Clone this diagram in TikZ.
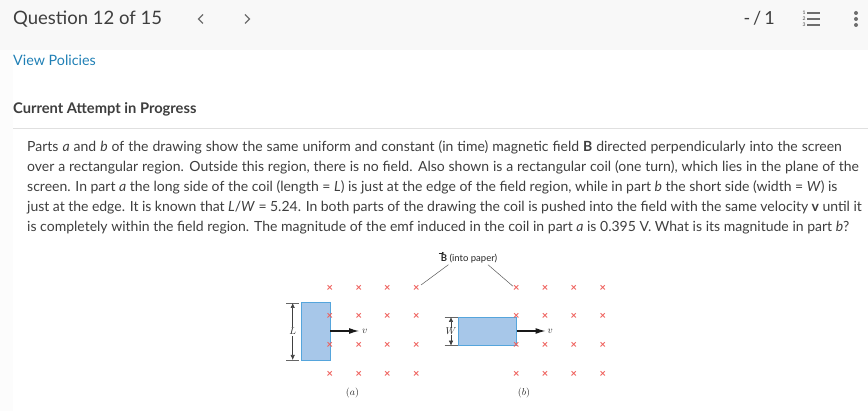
\documentclass[tikz,border=0pt]{standalone}
\usepackage{fontspec}
\setmainfont{Lato}
\usetikzlibrary{calc,positioning,arrows.meta}
\definecolor{bandgray}{HTML}{F8F8F8}
\definecolor{sidegray}{HTML}{FCFCFC}
\definecolor{inktext}{HTML}{3E3E3E}
\definecolor{linkblue}{HTML}{1F7FB5}
\definecolor{crossred}{HTML}{EE5F5B}
\definecolor{coilfill}{HTML}{A7C7E9}
\definecolor{coiledge}{HTML}{55A5DC}
\definecolor{icongray}{HTML}{6E6E6E}
\newcommand{\fitline}[2]{\makebox[#1pt][s]{#2}}
\tikzset{
	bodyline/.style={anchor=base west,inner sep=0pt,text=inktext,font=\fontsize{14}{16}\selectfont},
	crossmark/.style={text=crossred,inner sep=0pt,font=\fontsize{11}{11}\selectfont\bfseries},
	coil/.style={draw=coiledge,fill=coilfill,line width=0.9pt,inner sep=0pt,minimum width=#1},
	dimline/.style={black!75,line width=0.6pt,{Latex[length=5pt,width=4.5pt]}-{Latex[length=5pt,width=4.5pt]}},
	dimtick/.style={black!60,line width=0.8pt},
	leader/.style={black!65,line width=0.5pt},
	velarrow/.style={black!90,line width=1.1pt,-{Latex[length=10pt,width=6pt]}},
	figlabel/.style={inner sep=0pt,text=black!85,font=\fontsize{10}{11}\selectfont},
}
\begin{document}
\begin{tikzpicture}[x=1pt,y=-1pt]
	\useasboundingbox (0,0) rectangle (868,411);
	%%%%% HEADER %%%%%
	\fill[sidegray] (0,50) rectangle (13,411);
	\fill[bandgray] (0,0) rectangle (868,50);
	\node[anchor=base west,inner sep=0pt,text=inktext,font=\fontsize{18.5}{20}\selectfont] (qtitle) at (13,25) {Question 12 of 15};
	\draw[icongray,line width=1.4pt] (203,14.5) -- (198.5,19) -- (203,23.5);
	\draw[icongray,line width=1.4pt] (245,14.5) -- (249.5,19) -- (245,23.5);
	\node[anchor=base east,inner sep=0pt,text=inktext,font=\fontsize{18}{20}\selectfont] (score) at (775,25) {-\kern3pt/\kern3pt1};
	\foreach \yy/\nn in {13/1,19/2,25/3}{
		\node[inner sep=0pt,text=icongray,font=\fontsize{5}{5}\selectfont\bfseries] (num\nn) at (804,\yy) {\nn};
		\draw[icongray,line width=1.2pt] (807,\yy) -- (820,\yy);
	}
	\foreach \yy in {13,19,25}
		\fill[icongray] (856,\yy) circle (2);
	%%%%% LINKS %%%%%
	\node[anchor=base west,inner sep=0pt,text=linkblue,font=\fontsize{14.3}{16}\selectfont] (policies) at (13,65.5) {View Policies};
	\node[anchor=base west,inner sep=0pt,text=inktext,font=\fontsize{14.7}{16}\selectfont\bfseries] (attempt) at (13,113.5) {Current Attempt in Progress};
	\draw[black!12,line width=0.7pt] (13,128) -- (868,128);
	%%%%% TEXT %%%%%
	\node[bodyline] (line1) at (27,151.5) {\fitline{814.7}{Parts \textit{a} and \textit{b} of the drawing show the same uniform and constant (in time) magnetic field \textbf{B} directed perpendicularly into the screen}};
	\node[bodyline] (line2) at (27,171.5) {\fitline{831.7}{over a rectangular region. Outside this region, there is no field. Also shown is a rectangular coil (one turn), which lies in the plane of the}};
	\node[bodyline] (line3) at (27,191.5) {\fitline{810.3}{screen. In part \textit{a} the long side of the coil (length = \textit{L}) is just at the edge of the field region, while in part \textit{b} the short side (width = \textit{W}) is}};
	\node[bodyline] (line4) at (27,211.5) {\fitline{834.7}{just at the edge. It is known that \textit{L}/\textit{W} = 5.24. In both parts of the drawing the coil is pushed into the field with the same velocity \textbf{v} until it}};
	\node[bodyline] (line5) at (27,231.5) {\fitline{822.3}{is completely within the field region. The magnitude of the emf induced in the coil in part \textit{a} is 0.395 V. What is its magnitude in part \textit{b}?}};
	%%%%% COILS %%%%%
	\node[coil=29pt,minimum height=57.5pt] (coila) at (315.5,331.5) {};
	\node[coil=58pt,minimum height=28.5pt] (coilb) at (487.5,331.5) {};
	%%%%% FIELD %%%%%
	\foreach \yy/\rr in {288/1,316.7/2,345.3/3,374/4}{
		\foreach \xx/\cc in {329.7/1,358.7/2,387.3/3,416.3/4}
			\node[crossmark] (xa\rr\cc) at (\xx,\yy) {×};
		\foreach \xx/\cc in {516.3/1,545/2,573.7/3,602.7/4}
			\node[crossmark] (xb\rr\cc) at (\xx,\yy) {×};
	}
	%%%%% VELOCITY %%%%%
	\coordinate (tipa) at (359,331);
	\coordinate (tipb) at (545.5,331);
	\draw[velarrow] (coila.east |- tipa) -- (tipa);
	\draw[velarrow] (coilb.east |- tipb) -- (tipb);
	\node[figlabel,right=3pt of tipa] (va) {$v$};
	\node[figlabel,right=2pt of tipb] (vb) {$v$};
	%%%%% DIMENSIONS %%%%%
	\coordinate (lt) at (292.7,303);
	\coordinate (lb) at (292.7,360);
	\coordinate (wt) at (451,317);
	\coordinate (wb) at (451,345.7);
	\draw[dimtick] ($(lt)+(-6.5,0)$) -- ($(lt)+(6.5,0)$);
	\draw[dimtick] ($(lb)+(-6.5,0)$) -- ($(lb)+(6.5,0)$);
	\draw[dimtick] ($(wt)+(-6.5,0)$) -- ($(wt)+(6.5,0)$);
	\draw[dimtick] ($(wb)+(-6.5,0)$) -- ($(wb)+(6.5,0)$);
	\draw[dimline] (lt) -- (lb);
	\draw[dimline] (wt) -- (wb);
	\node[figlabel,fill=white,inner ysep=1pt] (llab) at (292.7,331.5) {$L$};
	\node[figlabel,fill=white,inner ysep=0.5pt] (wlab) at (451,331.5) {$W$};
	%%%%% B LABEL %%%%%
	\node[figlabel,font=\fontsize{9.5}{11}\selectfont] (blab) at (469,259) {$\mathbf{B}$ (into paper)};
	\draw[black!85,line width=0.5pt,-{Latex[length=2.5pt,width=2.5pt]}] (438.5,253) -- (444.5,253);
	\coordinate (enda) at (421,285);
	\coordinate (endb) at (513,286.3);
	\draw[leader] ($(blab.south west)+(7.7,1)$) -- (enda);
	\draw[leader] ($(blab.south east)+(-9.3,1)$) -- (endb);
	\node[figlabel] (capa) at (352.5,393.5) {$(a)$};
	\node[figlabel] (capb) at (524,393.5) {$(b)$};
\end{tikzpicture}
\end{document}
